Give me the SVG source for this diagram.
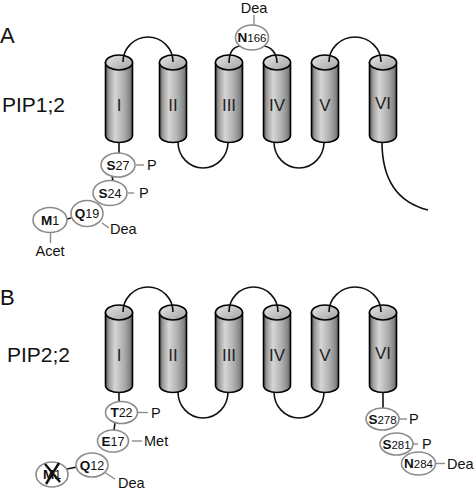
<svg xmlns="http://www.w3.org/2000/svg" xmlns:xlink="http://www.w3.org/1999/xlink" width="474" height="490" viewBox="0 0 474 490">
<defs>
<linearGradient id="body" x1="0" y1="0" x2="1" y2="0">
<stop offset="0" stop-color="#505050"/>
<stop offset="0.12" stop-color="#9a9a9a"/>
<stop offset="0.35" stop-color="#d6d6d6"/>
<stop offset="0.7" stop-color="#ababab"/>
<stop offset="0.9" stop-color="#858585"/>
<stop offset="1" stop-color="#5c5c5c"/>
</linearGradient>
<linearGradient id="top" x1="0" y1="0" x2="1" y2="1">
<stop offset="0" stop-color="#e6e6e6"/>
<stop offset="1" stop-color="#a2a2a2"/>
</linearGradient>
<g id="cyl">
<path d="M-13.5,0 L-13.5,73 A13.5,7 0 0 0 13.5,73 L13.5,0 Z" fill="url(#body)" stroke="#000" stroke-width="1.6"/>
<ellipse cx="0" cy="0" rx="13.5" ry="7.5" fill="url(#top)" stroke="#000" stroke-width="1.6"/>
</g>
</defs>
<style>
text{font-family:"Liberation Sans",Arial,sans-serif;fill:#111}
.lab{font-size:21px}
.pan{font-size:22px}
.rn{font-size:17px;text-anchor:middle;fill:#222}
.res{fill:#fff;stroke:#8c8c8c;stroke-width:1.6}
.rt{font-size:12.5px;text-anchor:middle}
.rt.n3{font-size:11.5px}
.rt tspan.b{font-weight:bold;font-size:13.5px}
.mod{font-size:14.5px}
.ln{fill:none;stroke:#111;stroke-width:1.6}
.gl{fill:none;stroke:#8c8c8c;stroke-width:1.4}
</style>

<!-- Panel A -->
<g id="panelA-labels">
<text class="pan" x="0" y="43">A</text>
<text class="lab" x="2" y="112">PIP1;2</text>
</g>
<g id="A-I"><use xlink:href="#cyl" x="119" y="62.5"/><text class="rn" x="119" y="111">I</text></g>
<g id="A-II"><use xlink:href="#cyl" x="173" y="62.5"/><text class="rn" x="173" y="111">II</text></g>
<g id="A-III"><use xlink:href="#cyl" x="229" y="62.5"/><text class="rn" x="229" y="111">III</text></g>
<g id="A-IV"><use xlink:href="#cyl" x="277" y="62.5"/><text class="rn" x="277" y="111">IV</text></g>
<g id="A-V"><use xlink:href="#cyl" x="325" y="62.5"/><text class="rn" x="325" y="111">V</text></g>
<g id="A-VI"><use xlink:href="#cyl" x="383" y="62.5"/><text class="rn" x="383" y="109">VI</text></g>

<g id="A-connectors">
<path class="ln" d="M123,62 A25,25 0 0 1 173,62"/>
<path class="ln" d="M229,63 C229,53 233,47 240,46"/>
<path class="ln" d="M264,46 C271,47 277,53 277,63"/>
<path class="ln" d="M329,62 A26,25 0 0 1 381,62"/>
<path class="ln" d="M178,142 A25,26 0 0 0 228,142"/>
<path class="ln" d="M274,142 A25,26 0 0 0 324,142"/>
<path class="ln" d="M382,142 C382,178 396,202 428,210"/>
<path class="ln" d="M119,142 L119,153"/>
<path class="ln" d="M112,176 L113,181"/>
<path class="ln" d="M67,219 L71,218"/>
<path class="gl" d="M254,15 L254,25"/>
<path class="gl" d="M136,165 L144,165"/>
<path class="gl" d="M128,193 L134,193"/>
<path class="gl" d="M102,223 L109,228"/>
<path class="gl" d="M50.5,233 L50.5,243"/>
</g>

<g id="A-N166"><ellipse class="res" cx="252" cy="37.5" rx="16.5" ry="12.5"/><text class="rt n3" x="252" y="42"><tspan class="b">N</tspan>166</text></g>
<g id="A-S27"><ellipse class="res" cx="118" cy="165" rx="17" ry="12"/><text class="rt" x="118" y="169.5"><tspan class="b">S</tspan>27</text></g>
<g id="A-S24"><ellipse class="res" cx="110" cy="193" rx="17" ry="12.5"/><text class="rt" x="110" y="197.5"><tspan class="b">S</tspan>24</text></g>
<g id="A-Q19"><ellipse class="res" cx="87" cy="213.5" rx="16" ry="13"/><text class="rt" x="87" y="218"><tspan class="b">Q</tspan>19</text></g>
<g id="A-M1"><ellipse class="res" cx="50" cy="220" rx="17" ry="12.5"/><text class="rt" x="50" y="224.5"><tspan class="b">M</tspan>1</text></g>
<g id="A-mods">
<text class="mod" x="254" y="12.5" text-anchor="middle">Dea</text>
<text class="mod" x="147" y="170">P</text>
<text class="mod" x="139" y="198">P</text>
<text class="mod" x="110" y="234">Dea</text>
<text class="mod" x="50" y="256" text-anchor="middle">Acet</text>
</g>

<!-- Panel B -->
<g id="panelB-labels">
<text class="pan" x="0" y="305">B</text>
<text class="lab" x="7" y="362">PIP2;2</text>
</g>
<g id="B-I"><use xlink:href="#cyl" x="119" y="312.5"/><text class="rn" x="119" y="361">I</text></g>
<g id="B-II"><use xlink:href="#cyl" x="173" y="312.5"/><text class="rn" x="173" y="361">II</text></g>
<g id="B-III"><use xlink:href="#cyl" x="229" y="312.5"/><text class="rn" x="229" y="361">III</text></g>
<g id="B-IV"><use xlink:href="#cyl" x="277" y="312.5"/><text class="rn" x="277" y="361">IV</text></g>
<g id="B-V"><use xlink:href="#cyl" x="325" y="312.5"/><text class="rn" x="325" y="361">V</text></g>
<g id="B-VI"><use xlink:href="#cyl" x="383" y="312.5"/><text class="rn" x="383" y="359">VI</text></g>

<g id="B-connectors">
<path class="ln" d="M123,312 A25,25 0 0 1 173,312"/>
<path class="ln" d="M229,312 A24.5,25 0 0 1 278,312"/>
<path class="ln" d="M329,312 A26,25 0 0 1 381,312"/>
<path class="ln" d="M178,392 A25,26 0 0 0 228,392"/>
<path class="ln" d="M274,392 A25,26 0 0 0 324,392"/>
<path class="ln" d="M119,392 L119,402"/>
<path class="ln" d="M115,423 L114,430"/>
<path class="ln" d="M383,392 L383,408"/>
<path class="ln" d="M67,469 L77,467" stroke-width="2.4"/>
<path class="gl" d="M138,412.5 L148,412.5"/>
<path class="gl" d="M132,441 L142,441"/>
<path class="gl" d="M104,472 L115,479"/>
<path class="gl" d="M399,419 L407,419"/>
<path class="gl" d="M413,444 L418,444"/>
<path class="gl" d="M436,463.5 L445,463.5"/>
</g>

<g id="B-T22"><ellipse class="res" cx="121.5" cy="412.5" rx="16" ry="11"/><text class="rt" x="121.5" y="417"><tspan class="b">T</tspan>22</text></g>
<g id="B-E17"><ellipse class="res" cx="113" cy="441" rx="15.5" ry="11"/><text class="rt" x="113" y="445.5"><tspan class="b">E</tspan>17</text></g>
<g id="B-Q12"><ellipse class="res" cx="92" cy="465" rx="16" ry="12"/><text class="rt" x="92" y="469.5"><tspan class="b">Q</tspan>12</text></g>
<g id="B-M1"><ellipse class="res" cx="52" cy="474.5" rx="16" ry="12.5"/><text class="rt" x="52" y="479"><tspan class="b">M</tspan>1</text>
<path d="M45,464 L60,482 M59,463 L46,484" fill="none" stroke="#111" stroke-width="2.4"/></g>
<g id="B-S278"><ellipse class="res" cx="382.5" cy="419" rx="16.5" ry="11"/><text class="rt n3" x="382.5" y="423.5"><tspan class="b">S</tspan>278</text></g>
<g id="B-S281"><ellipse class="res" cx="396.5" cy="444" rx="16.5" ry="11"/><text class="rt n3" x="396.5" y="448.5"><tspan class="b">S</tspan>281</text></g>
<g id="B-N284"><ellipse class="res" cx="418.5" cy="463.5" rx="17" ry="11.5"/><text class="rt n3" x="418.5" y="468"><tspan class="b">N</tspan>284</text></g>
<g id="B-mods">
<text class="mod" x="151" y="418">P</text>
<text class="mod" x="144" y="446">Met</text>
<text class="mod" x="118" y="487.5">Dea</text>
<text class="mod" x="409" y="424">P</text>
<text class="mod" x="422" y="449">P</text>
<text class="mod" x="447" y="469">Dea</text>
</g>
</svg>
